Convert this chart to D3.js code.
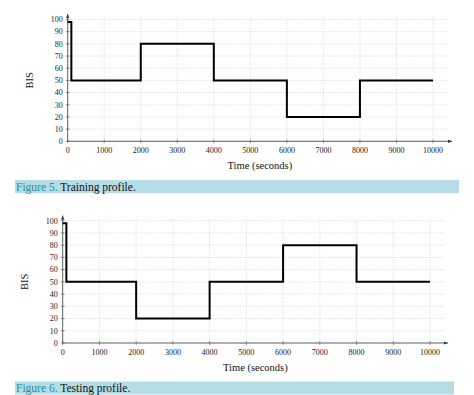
<!DOCTYPE html>
<html>
<head>
<meta charset="utf-8">
<script src="https://cdn.jsdelivr.net/npm/d3@7"></script>
<style>
  body { margin:0; background:#fff; }
  svg text { font-family: "Liberation Serif", "DejaVu Serif", serif; }
</style>
</head>
<body>
<div id="chart-area"></div>
<script>
// Data (time in seconds, BIS values)
var trainTime = [0, 100, 100, 2000, 2000, 4000, 4000, 6000, 6000, 8000, 8000, 10000];
var trainBIS  = [98, 98, 50, 50, 80, 80, 50, 50, 20, 20, 50, 50];
var testTime  = [0, 100, 100, 2000, 2000, 4000, 4000, 6000, 6000, 8000, 8000, 10000];
var testBIS   = [98, 98, 50, 50, 20, 20, 50, 50, 80, 80, 50, 50];
var xTicks = [0, 1000, 2000, 3000, 4000, 5000, 6000, 7000, 8000, 9000, 10000];
var yTicks = [0, 10, 20, 30, 40, 50, 60, 70, 80, 90, 100];
var captions = [["Figure 5.", " Training profile."], ["Figure 6.", " Testing profile."]];

var svg = d3.select("#chart-area").append("svg")
    .attr("width", 474)
    .attr("height", 395);

// draws one panel; x0/x1 = pixel of 0 and 10000, y0/y1 = pixel of 0 and 100
function drawPanel(times, vals, cfg, cap) {
    var x = d3.scaleLinear().domain([0, 10000]).range([cfg.x0, cfg.x1]);
    var y = d3.scaleLinear().domain([0, 100]).range([cfg.y0, cfg.y1]);
    var g = svg.append("g");

    // dotted grid
    g.selectAll(".hgrid").data(yTicks.slice(1)).enter().append("line")
        .attr("x1", cfg.x0).attr("x2", cfg.xEnd - 4)
        .attr("y1", function(d) { return y(d); })
        .attr("y2", function(d) { return y(d); })
        .attr("stroke", "#c8c8c8").attr("stroke-width", 0.7)
        .attr("stroke-dasharray", "1,1.5");
    g.selectAll(".vgrid").data(xTicks.slice(1)).enter().append("line")
        .attr("x1", function(d) { return x(d); })
        .attr("x2", function(d) { return x(d); })
        .attr("y1", cfg.y0).attr("y2", cfg.yEnd + 3)
        .attr("stroke", "#c8c8c8").attr("stroke-width", 0.7)
        .attr("stroke-dasharray", "1,1.5");

    // axes with arrows
    g.append("line")
        .attr("x1", cfg.x0).attr("x2", cfg.xEnd)
        .attr("y1", cfg.y0).attr("y2", cfg.y0)
        .attr("stroke", "#333").attr("stroke-width", 0.8);
    g.append("path")
        .attr("d", "M" + cfg.xEnd + "," + cfg.y0 + " l-4,-1.6 l0,3.2 z")
        .attr("fill", "#333");
    g.append("line")
        .attr("x1", cfg.x0).attr("x2", cfg.x0)
        .attr("y1", cfg.y0).attr("y2", cfg.yEnd)
        .attr("stroke", "#333").attr("stroke-width", 0.8);
    g.append("path")
        .attr("d", "M" + cfg.x0 + "," + cfg.yEnd + " l-1.6,4 l3.2,0 z")
        .attr("fill", "#333");

    // ticks + labels
    g.selectAll(".xt").data(xTicks).enter().append("line")
        .attr("x1", function(d) { return x(d); })
        .attr("x2", function(d) { return x(d); })
        .attr("y1", cfg.y0 - 2).attr("y2", cfg.y0 + 2)
        .attr("stroke", "#555").attr("stroke-width", 0.6);
    g.selectAll(".xl").data(xTicks).enter().append("text")
        .attr("x", function(d) { return x(d); })
        .attr("y", cfg.y0 + 12)
        .attr("text-anchor", "middle")
        .attr("font-size", "8px")
        .attr("fill", "#222")
        .text(function(d) { return d; });
    g.selectAll(".yt").data(yTicks).enter().append("line")
        .attr("x1", cfg.x0 - 2).attr("x2", cfg.x0 + 2)
        .attr("y1", function(d) { return y(d); })
        .attr("y2", function(d) { return y(d); })
        .attr("stroke", "#555").attr("stroke-width", 0.6);
    g.selectAll(".yl").data(yTicks).enter().append("text")
        .attr("x", cfg.x0 - 5)
        .attr("y", function(d) { return y(d); })
        .attr("dy", "0.35em")
        .attr("text-anchor", "end")
        .attr("font-size", "8px")
        .attr("fill", "#222")
        .text(function(d) { return d; });

    // axis titles
    g.append("text")
        .attr("transform", "translate(" + cfg.ylabX + "," + ((cfg.y0 + cfg.y1) / 2) + ") rotate(-90)")
        .attr("text-anchor", "middle")
        .attr("dy", "0.35em")
        .attr("font-size", "10.5px")
        .attr("fill", "#111")
        .text("BIS");
    g.append("text")
        .attr("x", (cfg.x0 + cfg.xEnd) / 2)
        .attr("y", cfg.xlabY)
        .attr("text-anchor", "middle")
        .attr("font-size", "10.5px")
        .attr("fill", "#111")
        .text("Time (seconds)");

    // profile line
    var pts = times.map(function(t, i) { return [t, vals[i]]; });
    var line = d3.line()
        .x(function(d) { return x(d[0]); })
        .y(function(d) { return y(d[1]); });
    g.append("path")
        .datum(pts)
        .attr("d", line)
        .attr("fill", "none")
        .attr("stroke", "#000")
        .attr("stroke-width", 2)
        .attr("stroke-linejoin", "miter");

    // caption bar
    g.append("rect")
        .attr("x", 15).attr("y", cfg.capY)
        .attr("width", cfg.capW).attr("height", 13)
        .attr("fill", "#b5dde6");
    var ct = g.append("text")
        .attr("x", 16).attr("y", cfg.capY + 10.5)
        .attr("font-size", "11.5px");
    ct.append("tspan").attr("fill", "#2a8aa8").text(cap[0]);
    ct.append("tspan").attr("fill", "#111").text(cap[1]);
}

drawPanel(trainTime, trainBIS,
    { x0: 67.7, x1: 433, xEnd: 452, y0: 141.3, y1: 19.5, yEnd: 14,
      ylabX: 29, xlabY: 169, capY: 180, capW: 444 }, captions[0]);
drawPanel(testTime, testBIS,
    { x0: 62.7, x1: 430, xEnd: 448, y0: 343, y1: 220.7, yEnd: 215.5,
      ylabX: 24, xlabY: 371, capY: 381.5, capW: 439 }, captions[1]);
</script>
</body>
</html>
